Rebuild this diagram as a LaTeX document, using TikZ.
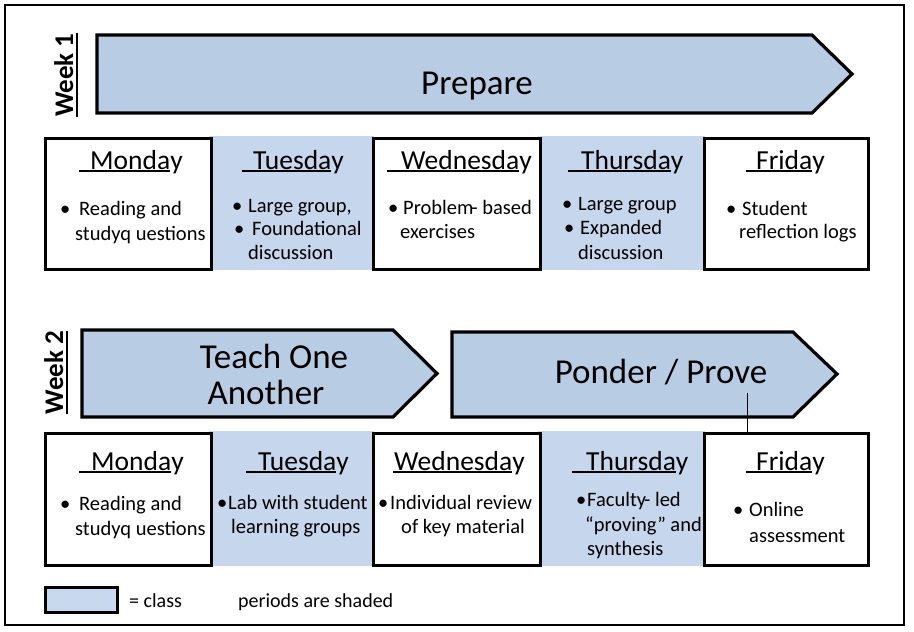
\documentclass[tikz,border=0pt]{standalone}
\usepackage{fontspec}
\setmainfont{Carlito}
\definecolor{arrowblue}{RGB}{184,204,228}
\definecolor{dayblue}{RGB}{198,214,236}
\definecolor{legblue}{RGB}{200,217,238}
\newcommand\dayul[1]{\setbox0\hbox{#1}\rlap{\rule[-2.8pt]{\wd0}{1.4pt}}\box0}
\newcommand\wkul[1]{\setbox0\hbox{#1}\rlap{\rule[-5pt]{\wd0}{2pt}}\box0}
\begin{document}
\begin{tikzpicture}[x=1pt,y=-1pt,
  frame/.style={draw=black, line width=2.5pt},
  phase/.style={draw=black, line width=3.2pt, fill=arrowblue, line join=miter},
  whitebox/.style={draw=black, line width=3pt, fill=white, inner sep=0pt, anchor=north west},
  shadebox/.style={draw=black!65, line width=0.6pt, double=dayblue, double distance=2.4pt, fill=dayblue, inner sep=0pt, anchor=north west},
  legbox/.style={draw=black, line width=3pt, fill=legblue, inner sep=0pt, anchor=north west},
  daytitle/.style={anchor=base west, inner sep=0pt, font=\fontsize{27.5}{30}\selectfont},
  bodytxt/.style={anchor=base west, inner sep=0pt, font=\fontsize{20.5}{24}\selectfont},
  phasetxt/.style={anchor=base, inner sep=0pt, font=\fontsize{35}{36}\selectfont},
  weektxt/.style={anchor=base, rotate=90, inner sep=0pt, font=\fontsize{27}{30}\selectfont\bfseries},
  link/.style={draw=black, line width=0.8pt}
]
\fill[white] (0,0) rectangle (914,632);
\useasboundingbox (0,0) rectangle (914,632);
\draw[frame] (5,5) rectangle (904,625);

% ---------- Week 1 ----------
\node[weektxt] (wk1) at (73,75) {\wkul{Week 1}};
\draw[phase] (97,35) -- (812,35) -- (852,74) -- (812,113) -- (97,113) -- cycle;
\node[phasetxt] (prep) at (477,94) {Prepare};

\node[shadebox, minimum width=162pt, minimum height=131pt] (w1tue) at (210,137) {};
\node[shadebox, minimum width=164pt, minimum height=131pt] (w1thu) at (539,137) {};
\node[whitebox, minimum width=166pt, minimum height=131pt] (w1mon) at (44,137) {};
\node[whitebox, minimum width=167pt, minimum height=131pt] (w1wed) at (372,137) {};
\node[whitebox, minimum width=164pt, minimum height=131pt] (w1fri) at (703,137) {};

\node[daytitle] (w1monT) at (79,169) {\dayul{\hspace*{11pt}Monda}y};
\node[daytitle] (w1tueT) at (242,169) {\dayul{\hspace*{11pt}Tuesda}y};
\node[daytitle] (w1wedT) at (387,169) {\dayul{\hspace*{14pt}Wednesda}y};
\node[daytitle] (w1thuT) at (568,169) {\dayul{\hspace*{13pt}Thursda}y};
\node[daytitle] (w1friT) at (746,169) {\dayul{\hspace*{10pt}Frida}y};

\node[bodytxt] (w1mon1) at (60,215) {\makebox[19pt][l]{•}Reading and};
\node[bodytxt] (w1mon2) at (75,240) {studyq uestions};
\node[bodytxt] (w1tue1) at (232,212) {\makebox[16pt][l]{•}Large group,};
\node[bodytxt] (w1tue2) at (234,235) {\makebox[18pt][l]{•}Foundational};
\node[bodytxt] (w1tue3) at (248,259) {discussion};
\node[bodytxt] (w1wed1) at (388,214) {\makebox[15pt][l]{•}Problem\kern-2pt- based};
\node[bodytxt] (w1wed2) at (400,238) {exercises};
\node[bodytxt] (w1thu1) at (562,210) {\makebox[16pt][l]{•}Large group};
\node[bodytxt] (w1thu2) at (564,234) {\makebox[16pt][l]{•}Expanded};
\node[bodytxt] (w1thu3) at (578,259) {discussion};
\node[bodytxt] (w1fri1) at (726,215) {\makebox[16pt][l]{•}Student};
\node[bodytxt] (w1fri2) at (739,238) {reflection logs};

% ---------- Week 2 ----------
\node[weektxt] (wk2) at (63,372.5) {\wkul{Week 2}};
\draw[phase] (82,330) -- (393,330) -- (437,373.5) -- (393,417) -- (82,417) -- cycle;
\node[phasetxt] (teach) at (274,368) {\begin{tabular}[t]{@{}c@{}}Teach One\\Another\hspace*{16pt}\end{tabular}};
\draw[phase] (452,332) -- (793,332) -- (837,374) -- (793,417) -- (452,417) -- cycle;
\node[phasetxt] (ponder) at (661,383) {Ponder / Prove};

\node[shadebox, minimum width=162pt, minimum height=132pt] (w2tue) at (210,432) {};
\node[shadebox, minimum width=164pt, minimum height=132pt] (w2thu) at (539,432) {};
\node[whitebox, minimum width=166pt, minimum height=132pt] (w2mon) at (44,432) {};
\node[whitebox, minimum width=167pt, minimum height=132pt] (w2wed) at (372,432) {};
\node[whitebox, minimum width=164pt, minimum height=132pt] (w2fri) at (703,432) {};

\coordinate (pp) at (747,393);
\draw[link] (pp) -- (pp |- w2fri.north);

\node[daytitle] (w2monT) at (79,470) {\dayul{\hspace*{12pt}Monda}y};
\node[daytitle] (w2tueT) at (246,470) {\dayul{\hspace*{12pt}Tuesda}y};
\node[daytitle] (w2wedT) at (393,470) {\dayul{\hspace*{1pt}Wednesda}y};
\node[daytitle] (w2thuT) at (572,470) {\dayul{\hspace*{14pt}Thursda}y};
\node[daytitle] (w2friT) at (746,470) {\dayul{\hspace*{10pt}Frida}y};

\node[bodytxt] (w2mon1) at (60,510) {\makebox[19pt][l]{•}Reading and};
\node[bodytxt] (w2mon2) at (75,535) {studyq uestions};
\node[bodytxt] (w2tue1) at (217,509) {\makebox[11pt][l]{•}Lab with student};
\node[bodytxt] (w2tue2) at (231,533) {learning groups};
\node[bodytxt] (w2wed1) at (378,509) {\makebox[12pt][l]{•}Individual review};
\node[bodytxt] (w2wed2) at (401,533) {of key material};
\node[bodytxt] (w2thu1) at (576,506) {\makebox[11pt][l]{•}Faculty\kern-2pt- led};
\node[bodytxt] (w2thu2) at (585,531) {“proving” and};
\node[bodytxt] (w2thu3) at (587,555) {synthesis};
\node[bodytxt] (w2fri1) at (733,516) {\makebox[16pt][l]{•}Online};
\node[bodytxt] (w2fri2) at (749,542) {assessment};

% ---------- Legend ----------
\node[legbox, minimum width=72pt, minimum height=25pt] (leg) at (44,586) {};
\node[bodytxt, font=\fontsize{20}{24}\selectfont] (legtxt) at (129,607) {\makebox[109pt][l]{= class}periods are shaded};
\end{tikzpicture}
\end{document}
